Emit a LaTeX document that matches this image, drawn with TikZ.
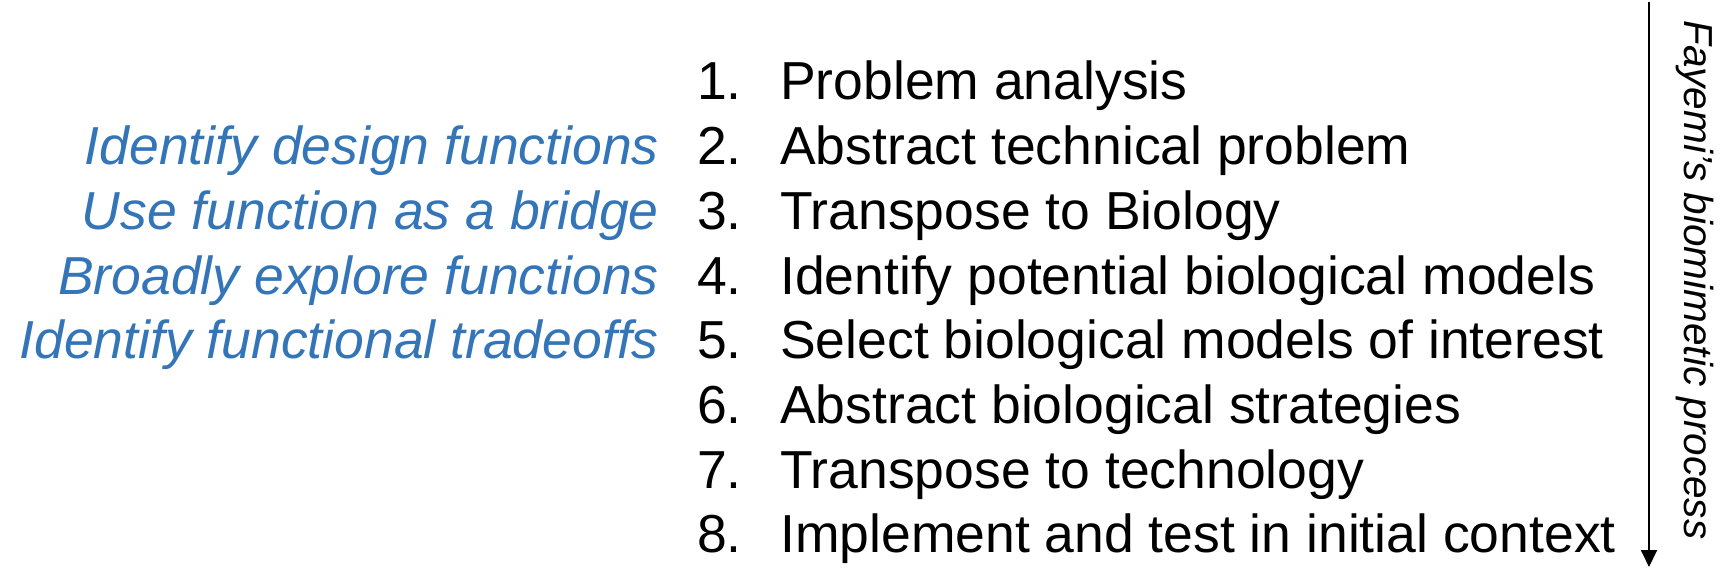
\documentclass[tikz,border=0pt]{standalone}
\usepackage{fontspec}
\setmainfont{Liberation Sans}
\usetikzlibrary{arrows.meta}
\definecolor{noteblue}{RGB}{52,117,184}

\begin{document}
\begin{tikzpicture}[x=1pt,y=-1pt,
	stepnum/.style={anchor=base west, inner sep=0pt, font=\fontsize{53.5}{62}\selectfont},
	steptext/.style={anchor=base west, inner sep=0pt, font=\fontsize{53.5}{62}\selectfont},
	note/.style={anchor=base east, inner sep=0pt, text=noteblue, font=\fontsize{53.5}{62}\selectfont\itshape}]
\useasboundingbox (0,0) rectangle (1725,577);

\foreach \i/\t in {1/Problem analysis, 2/Abstract technical problem, 3/Transpose to Biology,
	4/Identify potential biological models, 5/Select biological models of interest,
	6/Abstract biological strategies, 7/Transpose to technology, 8/Implement and test in initial context}{
	\node[stepnum] (n\i) at (697,{100+64.7*(\i-1)}) {\i.};
	\node[steptext] (s\i) at (780,{100+64.7*(\i-1)}) {\t};
}

\foreach \i/\t in {2/Identify design functions, 3/Use function as a bridge,
	4/Broadly explore functions, 5/Identify functional tradeoffs}{
	\node[note] (f\i) at (659,{100+64.7*(\i-1)}) {\t};
}

\coordinate (top) at (1649,2);
\coordinate (bot) at (1649,567);
\draw[line width=2pt, -{Triangle[width=16pt,length=17pt]}] (top) -- (bot);
\node[rotate=-90, anchor=base, inner sep=0pt, font=\fontsize{40.5}{48}\selectfont\itshape] (fay) at (1684,280) {Fayemi’s biomimetic process};
\end{tikzpicture}
\end{document}
